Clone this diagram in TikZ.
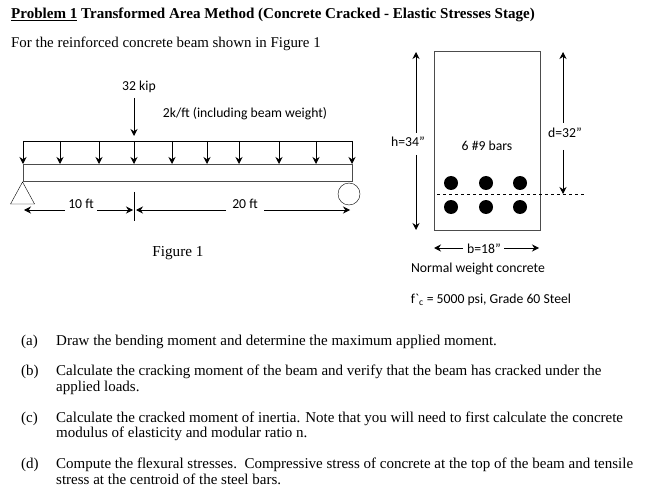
\documentclass[tikz,border=0pt]{standalone}
\usepackage{fontspec}
\setmainfont{Liberation Serif}
\newfontfamily\labfont{Carlito}
\usetikzlibrary{shapes.geometric, arrows.meta}
\newcommand{\qlab}[1]{\makebox[35pt][l]{#1}}
\tikzset{
  txt/.style={anchor=base west, inner sep=0pt, font=\fontsize{15}{17}\selectfont},
  lab/.style={inner sep=0pt, font=\labfont\fontsize{13.7}{15}\selectfont},
  load/.style={->, line width=0.8pt},
  dim/.style={->, line width=0.8pt},
  bar/.style={circle, fill=black, inner sep=0pt, minimum size=14pt},
}
\begin{document}
\begin{tikzpicture}[x=1pt, y=-1pt, >={Stealth[length=7pt, width=7pt]}]
      \useasboundingbox (0,0) rectangle (650,497);

      % Header
      \node[txt, font=\bfseries\fontsize{15.05}{17}\selectfont] (title) at (11,19) {\underline{Problem 1} Transformed Area Method (Concrete Cracked - Elastic Stresses Stage)};
      \node[txt, font=\fontsize{14.9}{17}\selectfont] (intro) at (11,48) {For the reinforced concrete beam shown in Figure 1};

      % Beam
      \node[draw=black!70, line width=0.9pt, minimum width=329pt, minimum height=17pt, inner sep=0pt] (beam) at (187.5,172.5) {};
      \node[draw, isosceles triangle, isosceles triangle stretches, shape border rotate=90, minimum width=24pt, minimum height=22pt, inner sep=0pt, anchor=apex] (pin) at (beam.south west) {};
      \node[draw, circle, minimum size=22pt, inner sep=0pt] (roller) at (349,194) {};

      % Distributed load
      \coordinate (udl-l) at (23,141);
      \coordinate (udl-r) at (352,141);
      \draw[line width=0.8pt] (udl-l) -- (udl-r);
      \foreach \x [count=\i] in {23,60,99,134,172,207,239,279,316,352} {
      \coordinate (udl-\i) at (\x,141);
      \coordinate (top-\i) at (\x,164);
      \draw[load] (udl-\i) -- (top-\i);
      }

      % Point load
      \node[lab] (kip) at (139,87) {32 kip};
      \coordinate (kip-s) at (134,98);
      \coordinate (kip-e) at (134,136);
      \draw[load] (kip-s) -- (kip-e);
      \node[lab] (udl) at (245,114) {2k/ft (including beam weight)};

      % Spans
      \coordinate (sp-a) at (24,210);
      \coordinate (sp-b) at (133,210);
      \coordinate (sp-d) at (136,210);
      \coordinate (sp-c) at (350,210);
      \coordinate (tick-a) at (134,192);
      \coordinate (tick-b) at (134,221);
      \draw[line width=0.8pt] (tick-a) -- (tick-b);
      \node[lab] (sp1) at (81,204) {10 ft};
      \node[lab] (sp2) at (245,204) {20 ft};
      \coordinate (sp1-l) at (65,210);
      \coordinate (sp1-r) at (97,210);
      \coordinate (sp2-l) at (226,210);
      \coordinate (sp2-r) at (264,210);
      \draw[dim] (sp1-l) -- (sp-a);
      \draw[dim] (sp1-r) -- (sp-b);
      \draw[dim] (sp2-l) -- (sp-d);
      \draw[dim] (sp2-r) -- (sp-c);
      \node[lab, font=\fontsize{15.2}{17}\selectfont] (fig) at (178,253) {Figure 1};

      % Section
      \node[draw=black!70, line width=0.9pt, minimum width=106pt, minimum height=179pt, inner sep=0pt] (sec) at (487,140.5) {};
      \node[lab] (nbars) at (487,146) {6 \#9 bars};
      \foreach \x in {451,486,520} {
      \node[bar] (up-\x) at (\x,183) {};
      \node[bar] (lo-\x) at (\x,207) {};
      }

      % Centroid line
      \coordinate (cen-l) at (437,194);
      \coordinate (cen-r) at (585,194);
      \draw[dashed, line width=0.7pt] (cen-l) -- (cen-r);

      % Height
      \node[lab] (hh) at (408,142) {h=34”};
      \coordinate (h-top) at (416,52);
      \coordinate (h-up) at (416,133);
      \coordinate (h-dn) at (416,155);
      \coordinate (h-bot) at (416,230);
      \draw[dim] (h-up) -- (h-top);
      \draw[dim] (h-dn) -- (h-bot);

      % Depth
      \node[lab] (dd) at (565,133) {d=32”};
      \coordinate (d-top) at (563,52);
      \coordinate (d-up) at (563,123);
      \coordinate (d-dn) at (563,150);
      \coordinate (d-bot) at (563,194);
      \draw[dim] (d-up) -- (d-top);
      \draw[dim] (d-dn) -- (d-bot);

      % Width
      \node[lab] (bb) at (484,249) {b=18”};
      \coordinate (b-l) at (434,248);
      \coordinate (b-lm) at (463,248);
      \coordinate (b-r) at (539,248);
      \coordinate (b-rm) at (504,248);
      \draw[dim] (b-lm) -- (b-l);
      \draw[dim] (b-rm) -- (b-r);
      \node[lab] (nw) at (478,269) {Normal weight concrete};
      \node[lab] (fc) at (491,300) {f`\textsubscript{c} = 5000 psi, Grade 60 Steel};

      % Questions
      \node[txt] (qa) at (21,345) {\qlab{(a)}Draw the bending moment and determine the maximum applied moment.};
      \node[txt] (qb) at (21,375) {\qlab{(b)}Calculate the cracking moment of the beam and verify that the beam has cracked under the};
      \node[txt] (qb2) at (56,391) {applied loads.};
      \node[txt] (qc) at (21,422) {\qlab{(c)}Calculate the cracked moment of inertia. Note that you will need to first calculate the concrete};
      \node[txt] (qc2) at (56,437) {modulus of elasticity and modular ratio n.};
      \node[txt] (qd) at (21,468) {\qlab{(d)}Compute the flexural stresses.\ \ Compressive stress of concrete at the top of the beam and tensile};
      \node[txt] (qd2) at (56,484) {stress at the centroid of the steel bars.};
\end{tikzpicture}
\end{document}
